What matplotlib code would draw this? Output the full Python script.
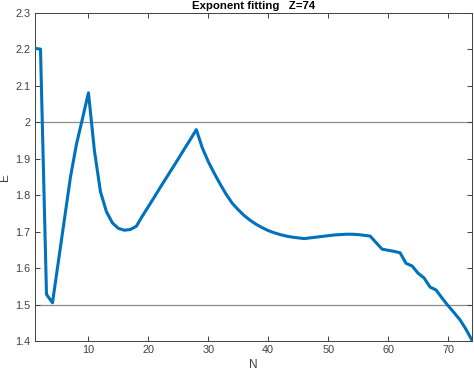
import numpy as np
import matplotlib
matplotlib.use('Agg')
import matplotlib.pyplot as plt
from matplotlib.ticker import FormatStrFormatter

# exponent E for each N
n_values = list(range(1, 75))
e_values = [2.203, 2.201, 1.528, 1.505, 1.620, 1.735, 1.850, 1.940, 2.010, 2.081,
            1.922, 1.810, 1.755, 1.724, 1.709, 1.704, 1.706, 1.715, 1.743, 1.769,
            1.795, 1.822, 1.848, 1.874, 1.900, 1.927, 1.953, 1.980, 1.930, 1.892,
            1.860, 1.830, 1.802, 1.778, 1.760, 1.744, 1.731, 1.720, 1.711, 1.703,
            1.697, 1.692, 1.688, 1.685, 1.683, 1.681, 1.683, 1.685, 1.687, 1.689,
            1.691, 1.692, 1.693, 1.693, 1.692, 1.690, 1.688, 1.670, 1.652, 1.649,
            1.646, 1.642, 1.613, 1.606, 1.586, 1.573, 1.548, 1.540, 1.518, 1.497,
            1.478, 1.458, 1.432, 1.402]
ref_levels = [2.0, 1.5]
x_ticks = [10, 20, 30, 40, 50, 60, 70]
y_ticks = [1.4, 1.5, 1.6, 1.7, 1.8, 1.9, 2.0, 2.1, 2.2, 2.3]

plt.rcParams['font.family'] = ['Liberation Sans', 'DejaVu Sans']

fig = plt.figure(figsize=(4.74, 3.72), dpi=100)
ax = fig.add_axes([0.0728, 0.0833, 0.9230, 0.8817])

for lvl in ref_levels:
    ax.axhline(lvl, color='#8c8c8c', lw=0.9, zorder=1)

ax.plot(n_values, e_values, color='#0072BD', lw=2.2, zorder=3)

ax.set_xlim(1, 74)
ax.set_ylim(1.4, 2.3)
ax.set_xticks(x_ticks)
ax.set_yticks(y_ticks)
ax.yaxis.set_major_formatter(FormatStrFormatter('%g'))
ax.tick_params(direction='in', length=3.5, width=0.7, colors='#404040',
               labelsize=7.8, top=True, right=True, pad=3)
for sp in ax.spines.values():
    sp.set_color('#404040')
    sp.set_linewidth(0.7)

ax.set_title('Exponent fitting   Z=74', fontsize=8.2, fontweight='bold', pad=3)
ax.set_xlabel('N', fontsize=8.5, color='#404040', labelpad=3)
ax.set_ylabel('E', fontsize=8.5, color='#404040', labelpad=3)

plt.savefig('out.png', dpi=100)
